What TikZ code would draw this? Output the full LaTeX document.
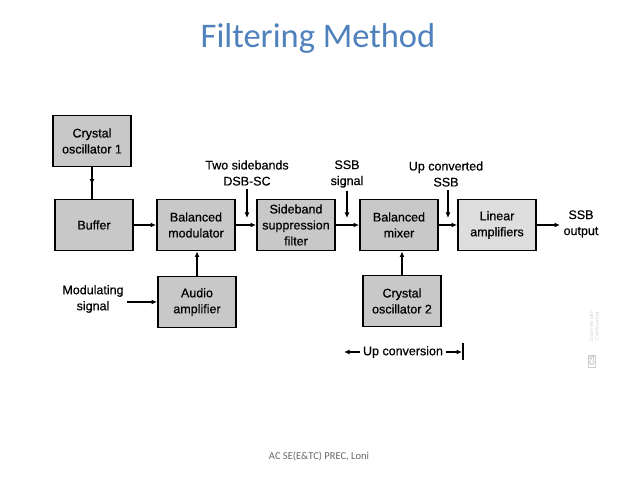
\documentclass[tikz,border=0pt]{standalone}
\usepackage{fontspec}
\setmainfont{Liberation Sans}
\newfontfamily\slidefont{Carlito}
\newfontfamily\scanfont{Liberation Sans}[FakeBold=0.5]
\usetikzlibrary{arrows.meta,decorations.markings}
\definecolor{titleblue}{RGB}{79,129,189}
\definecolor{boxgray}{RGB}{200,200,200}
\definecolor{boxlight}{RGB}{222,222,222}
\tikzset{
    blockbox/.style={draw, line width=1.9pt, fill=boxgray, minimum width=78pt, minimum height=51pt,
        align=center, inner sep=1pt, font=\scanfont\fontsize{12.5}{16}\selectfont},
    lbl/.style={align=center, font=\scanfont\fontsize{12.5}{16}\selectfont},
    sig/.style={line width=1.1pt, -{Latex[length=5.5pt,width=5pt]}},
    midarrow/.style={line width=1.1pt, postaction=decorate,
        decoration={markings, mark=at position 0.55 with {\arrow{Latex[length=5.5pt,width=5pt]}}}}
}
\begin{document}
\begin{tikzpicture}[x=1pt, y=-1pt]
    \useasboundingbox (0,0) rectangle (638,478);
    \node[font=\slidefont\fontsize{34.5}{40}\selectfont, text=titleblue] (title) at (318,38) {Filtering Method};
    % blocks
    \node[blockbox] (osc1) at (92,141) {Crystal\\oscillator 1};
    \node[blockbox] (buffer) at (94,225) {Buffer};
    \node[blockbox] (balmod) at (196,225) {Balanced\\modulator};
    \node[blockbox] (filter) at (296,225) {Sideband\\suppression\\filter};
    \node[blockbox] (mixer) at (399,225) {Balanced\\mixer};
    \node[blockbox, fill=boxlight] (linamp) at (497,225) {Linear\\amplifiers};
    \node[blockbox] (audio) at (197,302) {Audio\\amplifier};
    \node[blockbox] (osc2) at (402,301) {Crystal\\oscillator 2};
    % labels
    \node[lbl] (dsb) at (247,173) {Two sidebands\\DSB-SC};
    \node[lbl] (ssbsig) at (347,174) {SSB\\signal};
    \node[lbl] (upssb) at (446,174) {Up converted\\SSB};
    \node[lbl] (ssbout) at (581,224) {SSB\\output};
    \node[lbl] (modsig) at (93,299) {Modulating\\signal};
    \node[lbl] (upconv) at (403,352) {Up conversion};
    \coordinate (dsbtip) at (247,218);
    \coordinate (ssbtip) at (347,218);
    \coordinate (uptip) at (448,218);
    \coordinate (outtip) at (560,225);
    \coordinate (convl) at (344,352);
    \coordinate (convr) at (462,352);
    % signal path
    \draw[midarrow] (osc1.south) -- (osc1.south |- buffer.north);
    \draw[sig] (buffer.east) -- (balmod.west);
    \draw[sig] (balmod.east) -- (filter.west);
    \draw[sig] (filter.east) -- (mixer.west);
    \draw[sig] (mixer.east) -- (linamp.west);
    \draw[sig] (linamp.east) -- (outtip);
    \draw[sig] (audio.north) -- (audio.north |- balmod.south);
    \draw[sig] (osc2.north) -- (osc2.north |- mixer.south);
    \draw[sig] (modsig.east |- audio.west) -- (audio.west);
    \draw[sig] (dsb.south) -- (dsbtip);
    \draw[sig] (ssbsig.south) -- (ssbtip);
    \draw[sig] (upssb.south -| uptip) -- (uptip);
    \draw[sig] (upconv.west) -- (convl);
    \draw[sig] (upconv.east) -- (convr);
    \draw[line width=1.1pt] ([xshift=1pt, yshift=-8pt]convr) -- ([xshift=1pt, yshift=9pt]convr);
    % scanner mark
    \node[rotate=90, align=center, text=black!18, font=\fontsize{5}{5.5}\selectfont] (scanmark) at (594,326) {Scanned with\\CamScanner};
    \node[draw=black!20, text=black!25, rotate=90, inner sep=1pt, font=\bfseries\fontsize{7}{7}\selectfont] (cslogo) at (592,361) {CS};
    \node[font=\slidefont\fontsize{10.5}{12}\selectfont, text=black!60] (footer) at (319,456) {AC SE(E\&TC) PREC, Loni};
\end{tikzpicture}
\end{document}
